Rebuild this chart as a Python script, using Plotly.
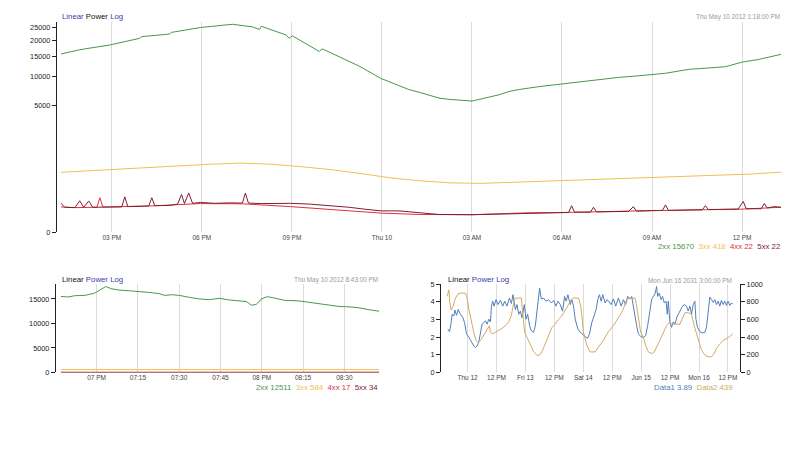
import numpy as np
import pandas as pd
import plotly.graph_objects as go

# ---- top panel: response codes over 24h, drawn on a power scale (exp 0.3)
top_start = pd.Timestamp('2012-05-09 13:18')
top_end = pd.Timestamp('2012-05-10 13:18')

s2xx_hours = [0, 0.63, 1.63, 2.63, 2.69, 3.62, 3.69, 4.65, 5.72, 6.38, 6.62, 6.68, 7.51, 7.61,
              7.71, 8.61, 8.71, 9.61, 9.94, 10.67, 11.27, 11.60, 11.94, 12.27, 12.60, 12.93,
              13.26, 13.70, 14.03, 14.59, 14.93, 15.26, 15.92, 16.69, 17.25, 17.92, 18.58,
              19.25, 19.68, 20.15, 20.91, 21.68, 22.14, 22.71, 23.24, 24.0]
s2xx_vals = [15750, 17060, 18590, 20890, 21490, 22460, 23100, 25030, 26370, 25300, 24240, 25540,
             22100, 20890, 21820, 16540, 17340, 13740, 12470, 9630, 8210, 7500, 7050, 6610,
             6110, 5920, 5770, 5670, 6000, 6610, 7160, 7500, 8020, 8510, 8970, 9480, 9850,
             10200, 10410, 10760, 11660, 11990, 12300, 13500, 14190, 15670]

s3xx_hours = list(range(25))
s3xx_vals = [414, 454, 505, 545, 587, 633, 668, 633, 559, 479, 386, 297, 247, 216, 209, 224,
             239, 255, 271, 288, 306, 325, 344, 375, 418]

s4xx_hours = [0, 0.47, 1.2, 1.3, 1.4, 2.96, 4.65, 6.05, 7.65, 8.94, 10.67, 11.94, 13.70,
              15.59, 16.69, 19.68, 22.71, 24.0]
s4xx_vals = [23, 21, 22, 65, 23, 26, 35, 34, 24, 17, 9, 7, 6.7, 9.5, 10, 13.5, 17, 22]

s5xx_hours = [0, 0.13, 0.47, 0.63, 0.76, 0.93, 1.06, 1.63, 2.03, 2.13, 2.23, 2.63, 2.93, 3.03,
              3.13, 3.62, 3.89, 4.02, 4.12, 4.26, 4.39, 4.65, 5.12, 5.62, 6.05, 6.15, 6.25,
              6.68, 7.28, 7.65, 8.28, 8.94, 9.61, 10.11, 10.67, 11.27, 11.94, 12.60, 13.70,
              14.59, 15.59, 16.69, 16.92, 17.02, 17.12, 17.65, 17.75, 17.85, 18.92, 19.08,
              19.18, 19.68, 20.05, 20.15, 20.25, 21.38, 21.48, 21.58, 22.57, 22.74, 22.84,
              23.34, 23.44, 23.54, 23.77, 24.0]
s5xx_vals = [37, 22, 21, 48, 22, 47, 22, 23, 23, 71, 24, 25, 26, 65, 27, 28, 33, 88, 35, 101,
             36, 40, 36, 38, 37, 100, 37, 35, 36, 36, 33, 28, 22, 17, 13, 13, 10, 7, 6.7, 7.5,
             9.5, 10, 10, 27, 10.5, 10.5, 22, 11, 12, 24, 12.5, 13.5, 14, 30, 14, 15.5, 27,
             16, 17, 45, 18, 18, 35, 20, 24, 22]

top_ticks = ['2012-05-09 15:00', '2012-05-09 18:00', '2012-05-09 21:00', '2012-05-10 00:00',
             '2012-05-10 03:00', '2012-05-10 06:00', '2012-05-10 09:00', '2012-05-10 12:00']
top_ticktext = ['03 PM', '06 PM', '09 PM', 'Thu 10', '03 AM', '06 AM', '09 AM', '12 PM']
top_yticks = [0, 5000, 10000, 15000, 20000, 25000]

# ---- bottom-left panel: last two hours, linear scale
bl_start = pd.Timestamp('2012-05-10 18:47')
bl_end = pd.Timestamp('2012-05-10 20:42:36')
bl_2xx_min = [0, 2.5, 5.1, 8.7, 12.3, 14.1, 16.3, 18.5, 21.4, 25, 28.6, 32.2, 35.9, 37.7, 40.2,
              43.1, 46.7, 50.4, 54, 57.6, 61.2, 64.9, 67.4, 69.2, 71, 72.8, 75, 77.5, 81.2,
              86.6, 90.2, 95.7, 101.1, 104.7, 108.3, 112, 115.6]
bl_2xx_vals = [15530, 15400, 15670, 15730, 16200, 16870, 17530, 17070, 16800, 16670, 16530,
               16330, 16070, 15730, 15870, 15730, 15330, 15000, 14870, 15130, 14800, 14670,
               14470, 13730, 13870, 15000, 15470, 15200, 14730, 14600, 14330, 13870, 13470,
               13400, 13200, 12800, 12511]
bl_min_flat = [0, 30, 60, 90, 115.6]
bl_3xx_vals = [600, 595, 590, 586, 584]
bl_4xx_vals = [20, 18, 19, 17, 17]
bl_5xx_vals = [30, 32, 33, 35, 34]
bl_yticks = [0, 5000, 10000, 15000]

bl_ticks = ['2012-05-10 19:00', '2012-05-10 19:15', '2012-05-10 19:30', '2012-05-10 19:45',
            '2012-05-10 20:00', '2012-05-10 20:15', '2012-05-10 20:30']
bl_ticktext = ['07 PM', '07:15', '07:30', '07:45', '08 PM', '08:15', '08:30']

# ---- bottom-right panel: two series on two y axes over five days
br_start = pd.Timestamp('2031-06-11 15:00')
d1_hours = [0.83, 1.53, 2.19, 2.61, 3.31, 3.72, 4.43, 5.09, 6.08, 7.03, 7.74, 8.56, 9.52, 10.63,
            11.58, 12.29, 12.95, 13.65, 14.36, 15.02, 15.72, 16.42, 17.09, 17.79, 18.49,
            18.91, 19.44, 19.98, 20.81, 21.64, 22.63, 23.58, 24.41, 25.36, 26.35, 27.18,
            27.84, 28.84, 29.50, 30.20, 30.90, 31.57, 32.56, 33.22, 33.92, 34.75, 35.45,
            36.41, 37.11, 37.77, 38.47, 38.89, 39.59, 40.54, 41.49, 42.61, 43.73, 44.68,
            45.63, 46.46, 47.45, 48.40, 49.23, 49.93, 50.60, 51.59, 52.25, 52.95, 53.66,
            54.73, 55.73, 56.68, 57.79, 58.75, 59.57, 60.53, 61.52, 62.35, 63.01, 63.71,
            64.42, 65.08, 66.07, 66.90, 67.44, 68.55, 69.50, 70.46, 71.57, 72.69, 73.64,
            74.59, 75.42, 76.41, 77.07, 77.78, 78.48, 79.14, 79.85, 80.80, 81.92, 82.87,
            83.70, 84.69, 85.35, 86.05, 86.76, 87.42, 87.83, 88.53, 89.24, 89.90, 90.60,
            91.31, 91.85, 92.26, 92.96, 93.62, 94.33, 95.03, 95.98, 96.81, 97.76, 98.87,
            99.83, 100.53, 101.23, 101.90, 102.60, 103.30, 103.72, 104.38, 105.37, 106.45,
            107.44, 108.10, 108.80, 109.51, 110.17, 110.87, 111.57, 112.24, 112.94, 113.64,
            114.31, 115.01, 115.71, 116.37, 117.08, 117.78, 118.44, 119.02]
d1_vals = [2.46, 2.31, 2.83, 3.30, 3.20, 3.54, 3.24, 3.57, 3.30, 3.11, 2.83, 2.19, 2.0, 1.72,
           1.5, 1.42, 1.5, 1.72, 2.28, 2.74, 2.83, 2.93, 2.74, 3.02, 2.87, 3.76, 4.04, 3.76,
           4.13, 3.85, 4.09, 3.76, 4.04, 3.76, 4.22, 3.91, 4.41, 3.57, 3.85, 3.30, 3.48,
           3.11, 3.85, 3.02, 3.30, 2.65, 2.37, 2.28, 2.65, 3.39, 4.31, 4.78, 4.17, 4.22,
           4.04, 4.13, 3.94, 4.09, 3.76, 4.04, 3.85, 3.48, 4.31, 4.04, 4.41, 3.85, 4.13,
           3.76, 3.02, 2.46, 2.28, 2.19, 2.04, 1.94, 2.19, 2.83, 3.30, 3.57, 4.13, 4.41,
           4.04, 4.41, 3.94, 4.13, 4.04, 3.85, 4.17, 3.76, 4.22, 3.76, 4.13, 3.85, 4.31,
           4.17, 4.31, 3.67, 3.20, 2.65, 2.19, 2.04, 1.98, 2.09, 2.65, 3.57, 4.13, 4.31,
           4.46, 4.87, 4.31, 4.5, 4.13, 4.31, 3.94, 4.04, 3.30, 4.04, 2.83, 2.56, 2.87,
           2.74, 3.20, 3.39, 3.67, 3.85, 3.76, 3.48, 3.76, 3.30, 3.85, 4.04, 3.02, 2.56,
           2.31, 2.24, 2.28, 2.56, 3.39, 4.28, 4.13, 3.98, 4.13, 3.85, 4.04, 3.76, 4.09,
           3.85, 4.04, 3.80, 4.04, 3.80, 3.94, 3.89]

d2_hours = [0.54, 1.24, 1.65, 2.19, 3.02, 4.01, 5.09, 6.08, 8.15, 8.81, 9.52, 10.63, 11.58,
            12.54, 13.36, 14.36, 15.72, 17.09, 18.08, 18.49, 19.15, 20.56, 21.93, 23.29,
            24.70, 26.06, 27.18, 28.13, 28.84, 31.32, 31.86, 32.68, 33.63, 35.04, 36.41,
            37.77, 38.89, 40.13, 41.49, 42.90, 43.98, 45.38, 46.75, 48.11, 49.52, 50.88,
            52.00, 52.95, 55.02, 55.97, 57.09, 58.45, 59.86, 61.93, 63.30, 65.36, 67.44,
            69.50, 71.57, 72.94, 74.05, 75.01, 76.00, 78.48, 79.14, 79.85, 80.80, 81.92,
            82.87, 83.99, 85.35, 86.46, 87.42, 88.82, 90.19, 91.55, 92.67, 93.21, 97.10,
            98.05, 99.17, 100.53, 101.90, 103.01, 103.97, 104.96, 106.04, 107.44, 108.80,
            110.17, 111.29, 112.24, 113.64, 115.01, 116.37, 117.37, 118.20, 119.02]
d2_vals = [863, 937, 789, 707, 752, 844, 892, 900, 900, 844, 715, 567, 456, 363, 337, 363, 419,
           474, 530, 456, 437, 456, 474, 500, 530, 574, 648, 789, 844, 844, 678, 456, 400,
           307, 233, 196, 196, 252, 344, 437, 511, 548, 604, 641, 715, 770, 826, 844, 844,
           752, 456, 307, 233, 233, 289, 363, 463, 530, 622, 678, 752, 826, 844, 844, 752,
           604, 456, 400, 307, 233, 215, 233, 289, 363, 456, 530, 567, 548, 548, 604, 678,
           678, 659, 530, 437, 344, 252, 196, 178, 178, 215, 270, 326, 363, 381, 400, 419,
           439]

br_tick_hours = [9, 21, 33, 45, 57, 69, 81, 93, 105, 117]
br_ticktext = ['Thu 12', '12 PM', 'Fri 13', '12 PM', 'Sat 14', '12 PM', 'Jun 15', '12 PM',
               'Mon 16', '12 PM']

GREEN = '#45984a'
YELLOW = '#f0c052'
RED = '#e0313c'
MAROON = '#7d2030'
BLUE = '#4f7fb8'
TAN = '#d2a862'
LINK = '#3c3cae'
FONT = 'Liberation Sans, Arial, sans-serif'
POW = 0.3
W, H = 800, 450


def pw(v):
    return np.power(np.asarray(v, dtype=float), POW)


def at(start, offsets, unit='h'):
    return start + pd.to_timedelta(offsets, unit=unit)


def px(x):
    return x / W


def py(y):
    return 1 - y / H


fig = go.Figure()

# top panel
for hours, vals, col in [(s2xx_hours, s2xx_vals, GREEN), (s3xx_hours, s3xx_vals, YELLOW),
                         (s4xx_hours, s4xx_vals, RED), (s5xx_hours, s5xx_vals, MAROON)]:
    fig.add_trace(go.Scatter(x=at(top_start, hours), y=pw(vals), mode='lines',
                             line=dict(color=col, width=1), xaxis='x', yaxis='y'))

# bottom-left panel
fig.add_trace(go.Scatter(x=at(bl_start, bl_2xx_min, 'min'), y=bl_2xx_vals, mode='lines',
                         line=dict(color=GREEN, width=1), xaxis='x2', yaxis='y2'))
for vals, col in [(bl_3xx_vals, YELLOW), (bl_4xx_vals, RED), (bl_5xx_vals, MAROON)]:
    fig.add_trace(go.Scatter(x=at(bl_start, bl_min_flat, 'min'), y=vals, mode='lines',
                             line=dict(color=col, width=1), xaxis='x2', yaxis='y2'))

# bottom-right panel
fig.add_trace(go.Scatter(x=at(br_start, d2_hours), y=d2_vals, mode='lines',
                         line=dict(color=TAN, width=1), xaxis='x3', yaxis='y4'))
fig.add_trace(go.Scatter(x=at(br_start, d1_hours), y=d1_vals, mode='lines',
                         line=dict(color=BLUE, width=1), xaxis='x3', yaxis='y3'))

xcommon = dict(type='date', showline=False, ticks='', showgrid=True, gridcolor='#dcdcdc',
               gridwidth=1, zeroline=False, tickmode='array',
               tickfont=dict(size=6.5, color='#444', family=FONT))
ycommon = dict(showline=True, linecolor='#222', linewidth=1, ticks='outside', ticklen=4,
               tickcolor='#222', showgrid=False, zeroline=False, anchor='free',
               tickfont=dict(size=7.3, color='#222', family=FONT))

fig.update_layout(
    width=W, height=H, margin=dict(l=0, r=0, t=0, b=0),
    paper_bgcolor='white', plot_bgcolor='white', showlegend=False,
    font=dict(family=FONT),
    xaxis=dict(xcommon, domain=[px(61), px(783)], anchor='y', range=[top_start, top_end],
               tickvals=top_ticks, ticktext=top_ticktext),
    yaxis=dict(ycommon, domain=[py(232.7), py(18)], position=px(56), range=[0, 21.47],
               tickmode='array', tickvals=pw(top_yticks),
               ticktext=[str(v) for v in top_yticks]),
    xaxis2=dict(xcommon, domain=[px(61), px(380)], anchor='y2', range=[bl_start, bl_end],
                tickvals=bl_ticks, ticktext=bl_ticktext),
    yaxis2=dict(ycommon, domain=[py(376), py(286)], position=px(55), range=[0, 18000],
                tickmode='array', tickvals=bl_yticks,
                ticktext=[str(v) for v in bl_yticks]),
    xaxis3=dict(xcommon, domain=[px(447), px(737)], anchor='y3',
                range=[br_start, at(br_start, [120])[0]],
                tickvals=at(br_start, br_tick_hours), ticktext=br_ticktext),
    yaxis3=dict(ycommon, domain=[py(376), py(286)], position=px(441), range=[0, 5],
                tickmode='array', tickvals=[0, 1, 2, 3, 4, 5]),
    yaxis4=dict(ycommon, overlaying='y3', side='right', position=px(742), range=[0, 1000],
                tickmode='array', tickvals=[0, 200, 400, 600, 800, 1000]),
)


def scale_toggle(x, y, active):
    parts = []
    for name in ['Linear', 'Power', 'Log']:
        col = '#111' if name == active else LINK
        parts.append(f"<span style='color:{col}'>{name}</span>")
    fig.add_annotation(x=px(x), y=py(y), xref='paper', yref='paper', xanchor='left',
                       yanchor='middle', showarrow=False, text=' '.join(parts),
                       font=dict(size=7.8, family=FONT))


def stamp(x, y, text):
    fig.add_annotation(x=px(x), y=py(y), xref='paper', yref='paper', xanchor='right',
                       yanchor='middle', showarrow=False, text=text,
                       font=dict(size=6.4, color='#999', family=FONT))


def legend(x, y, items):
    gap = '\u00a0\u00a0'
    text = gap.join(f"<span style='color:{c}'>{n}\u00a0{v}</span>" for n, v, c in items)
    fig.add_annotation(x=px(x), y=py(y), xref='paper', yref='paper', xanchor='right',
                       yanchor='middle', showarrow=False, text=text,
                       font=dict(size=7.8, family=FONT))


scale_toggle(60, 13, 'Power')
stamp(784, 13, 'Thu May 10 2012 1:18:00 PM')
legend(784, 247, [('2xx', 15670, GREEN), ('3xx', 418, YELLOW),
                  ('4xx', 22, RED), ('5xx', 22, MAROON)])

scale_toggle(60, 281, 'Linear')
stamp(381, 282, 'Thu May 10 2012 8:43:00 PM')
legend(381, 391, [('2xx', 12511, GREEN), ('3xx', 584, YELLOW),
                  ('4xx', 17, RED), ('5xx', 34, MAROON)])

scale_toggle(447, 281, 'Linear')
stamp(736, 282, 'Mon Jun 16 2031 3:00:00 PM')
legend(736, 391, [('Data1', 3.89, BLUE), ('Data2', 439, TAN)])

# the page body has an 8px default margin; drop it so the figure sits at 0,0
fig.write_html("out.html", config={'displayModeBar': False},
               post_script="document.body.style.margin='0px';")
